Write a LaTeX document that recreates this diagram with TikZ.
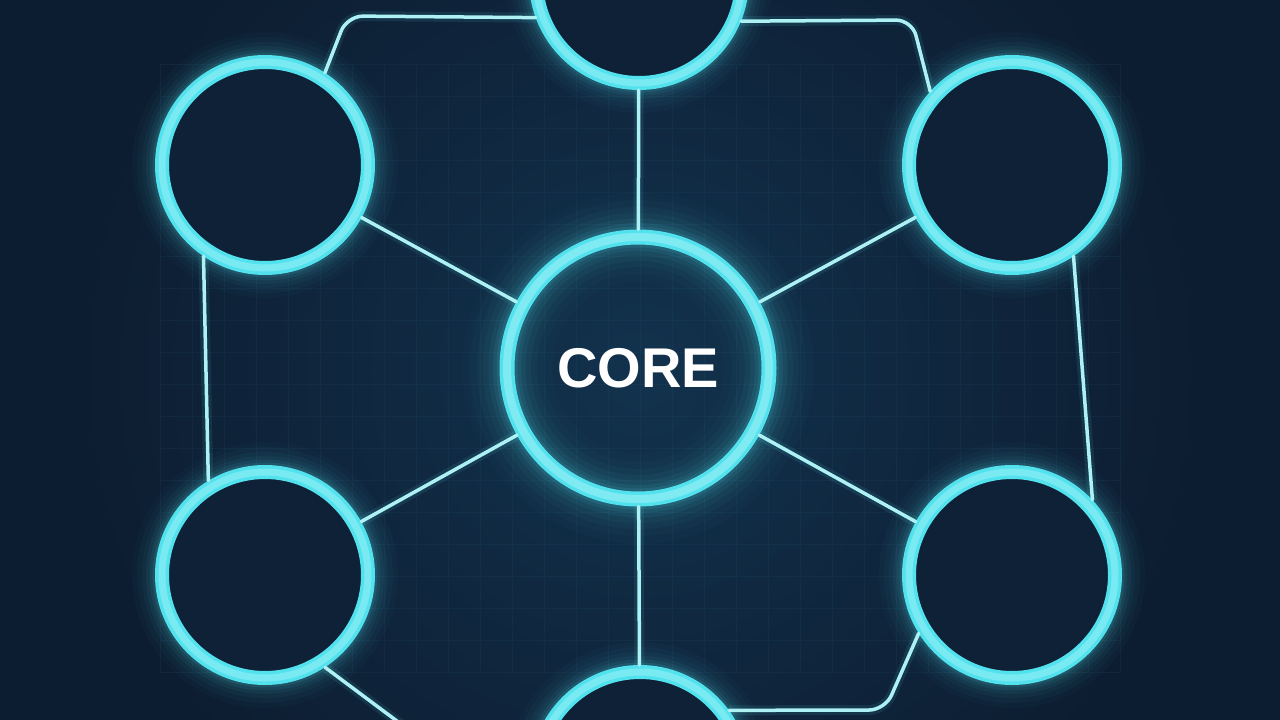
\documentclass[tikz,border=0pt]{standalone}
\usepackage{fontspec}
\newfontfamily\corefont{Liberation Sans}
\usetikzlibrary{backgrounds}
\definecolor{bgnavy}{HTML}{0D1D31}
\definecolor{bglight}{HTML}{12324D}
\definecolor{gridblue}{HTML}{2E6484}
\definecolor{ringcyan}{HTML}{52E2EE}
\definecolor{ringwhite}{HTML}{C4F8FA}
\definecolor{linkcyan}{HTML}{AEF1F5}
\definecolor{holefill}{HTML}{0E2137}
\tikzstyle{satellite} = [circle, minimum size=206pt, inner sep=0pt, line width=14pt, draw=ringcyan, fill=holefill,
  preaction={draw=ringcyan, line width=60pt, opacity=0.025},
  preaction={draw=ringcyan, line width=50pt, opacity=0.03},
  preaction={draw=ringcyan, line width=40pt, opacity=0.04},
  preaction={draw=ringcyan, line width=32pt, opacity=0.05},
  preaction={draw=ringcyan, line width=25pt, opacity=0.07},
  preaction={draw=ringcyan, line width=19pt, opacity=0.1},
  postaction={draw=ringwhite, line width=7pt, opacity=0.35}]
\tikzstyle{core} = [circle, minimum size=262pt, inner sep=0pt, line width=15pt, draw=ringcyan, text=white,
  preaction={draw=ringcyan, line width=90pt, opacity=0.02},
  preaction={draw=ringcyan, line width=74pt, opacity=0.025},
  preaction={draw=ringcyan, line width=60pt, opacity=0.035},
  preaction={draw=ringcyan, line width=48pt, opacity=0.045},
  preaction={draw=ringcyan, line width=37pt, opacity=0.06},
  preaction={draw=ringcyan, line width=28pt, opacity=0.08},
  preaction={draw=ringcyan, line width=21pt, opacity=0.1},
  postaction={draw=ringwhite, line width=8pt, opacity=0.4}]
\tikzstyle{link} = [draw=linkcyan, line width=3.5pt, line cap=round,
  preaction={draw=ringcyan, line width=10pt, opacity=0.1}]

\begin{document}
\begin{tikzpicture}[x=1pt, y=-1pt]
    \path[use as bounding box] (0,0) rectangle (1280,720);
    \clip (0,0) rectangle (1280,720);
    % backdrop
    \fill[bgnavy] (0,0) rectangle (1280,720);
    \shade[inner color=bglight, outer color=bgnavy] (640,370) circle (560pt);
    \draw[gridblue, line width=0.7pt, opacity=0.12, xstep=32pt, ystep=32pt] (160,64) grid (1120,672);

    % hub and satellites
    \node (core) [core] at (638,368) {\corefont\bfseries\fontsize{56}{56}\selectfont CORE};
    \node (top) [satellite] at (639,-20) {};
    \node (tl) [satellite] at (265,165) {};
    \node (tr) [satellite] at (1012,165) {};
    \node (bl) [satellite] at (265,575) {};
    \node (br) [satellite] at (1012,575) {};
    \node (bot) [satellite] at (640,775) {};

    % spokes
    \draw [link] (core) -- (top);
    \draw [link] (core) -- (tl);
    \draw [link] (core) -- (tr);
    \draw [link] (core) -- (bl);
    \draw [link] (core) -- (br);
    \draw [link] (core) -- (bot);

    % outer ring
    \coordinate (tlbend) at (347,16);
    \coordinate (trbend) at (912,20);
    \coordinate (brbend) at (885,710);
    \coordinate (blend) at (425,742);
    \draw [link, rounded corners=16pt] (tl.57) -- (tlbend) -- (top.200);
    \draw [link, rounded corners=16pt] (top.338) -- (trbend) -- (tr.138);
    \draw [link] (tl.236) -- (bl.121);
    \draw [link] (tr.304) -- (br.43);
    \draw [link] (bl.303) -- (blend);
    \draw [link, rounded corners=16pt] (br.212) -- (brbend) -- (bot.36);
\end{tikzpicture}
\end{document}
